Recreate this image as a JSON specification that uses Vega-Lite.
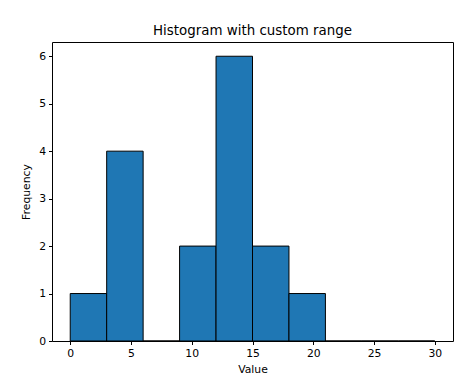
{
  "$schema": "https://vega.github.io/schema/vega-lite/v6.json",
  "width": 401,
  "height": 299,
  "autosize": {"type": "none"},
  "padding": {"left": 52, "top": 42, "right": 21, "bottom": 51},
  "background": "white",
  "title": {"text": "Histogram with custom range", "font": "DejaVu Sans", "fontSize": 13.4, "fontWeight": "normal", "color": "black", "offset": 5, "anchor": "middle"},
  "config": {
    "view": {"stroke": "black", "strokeWidth": 1},
    "axis": {
      "labelFont": "DejaVu Sans", "labelFontSize": 10.8, "labelColor": "black",
      "titleFont": "DejaVu Sans", "titleFontSize": 10.8, "titleFontWeight": "normal", "titleColor": "black",
      "tickColor": "black", "tickSize": 3.5, "domain": false, "grid": false, "labelPadding": 3
    }
  },
  "data": {"values": [
    {"bin_start": 0, "bin_end": 3, "count": 1},
    {"bin_start": 3, "bin_end": 6, "count": 4},
    {"bin_start": 6, "bin_end": 9, "count": 0},
    {"bin_start": 9, "bin_end": 12, "count": 2},
    {"bin_start": 12, "bin_end": 15, "count": 6},
    {"bin_start": 15, "bin_end": 18, "count": 2},
    {"bin_start": 18, "bin_end": 21, "count": 1},
    {"bin_start": 21, "bin_end": 24, "count": 0},
    {"bin_start": 24, "bin_end": 27, "count": 0},
    {"bin_start": 27, "bin_end": 30, "count": 0}
  ]},
  "mark": {"type": "rect", "fill": "#1f77b4", "stroke": "black", "strokeWidth": 1},
  "encoding": {
    "x": {"field": "bin_start", "type": "quantitative", "scale": {"domain": [-1.5, 31.5], "nice": false, "zero": false},
          "axis": {"title": "Value", "values": [0, 5, 10, 15, 20, 25, 30], "titlePadding": 5}},
    "x2": {"field": "bin_end"},
    "y": {"field": "count", "type": "quantitative", "scale": {"domain": [0, 6.3], "nice": false},
          "axis": {"title": "Frequency", "values": [0, 1, 2, 3, 4, 5, 6], "titlePadding": 7}},
    "y2": {"datum": 0}
  }
}
